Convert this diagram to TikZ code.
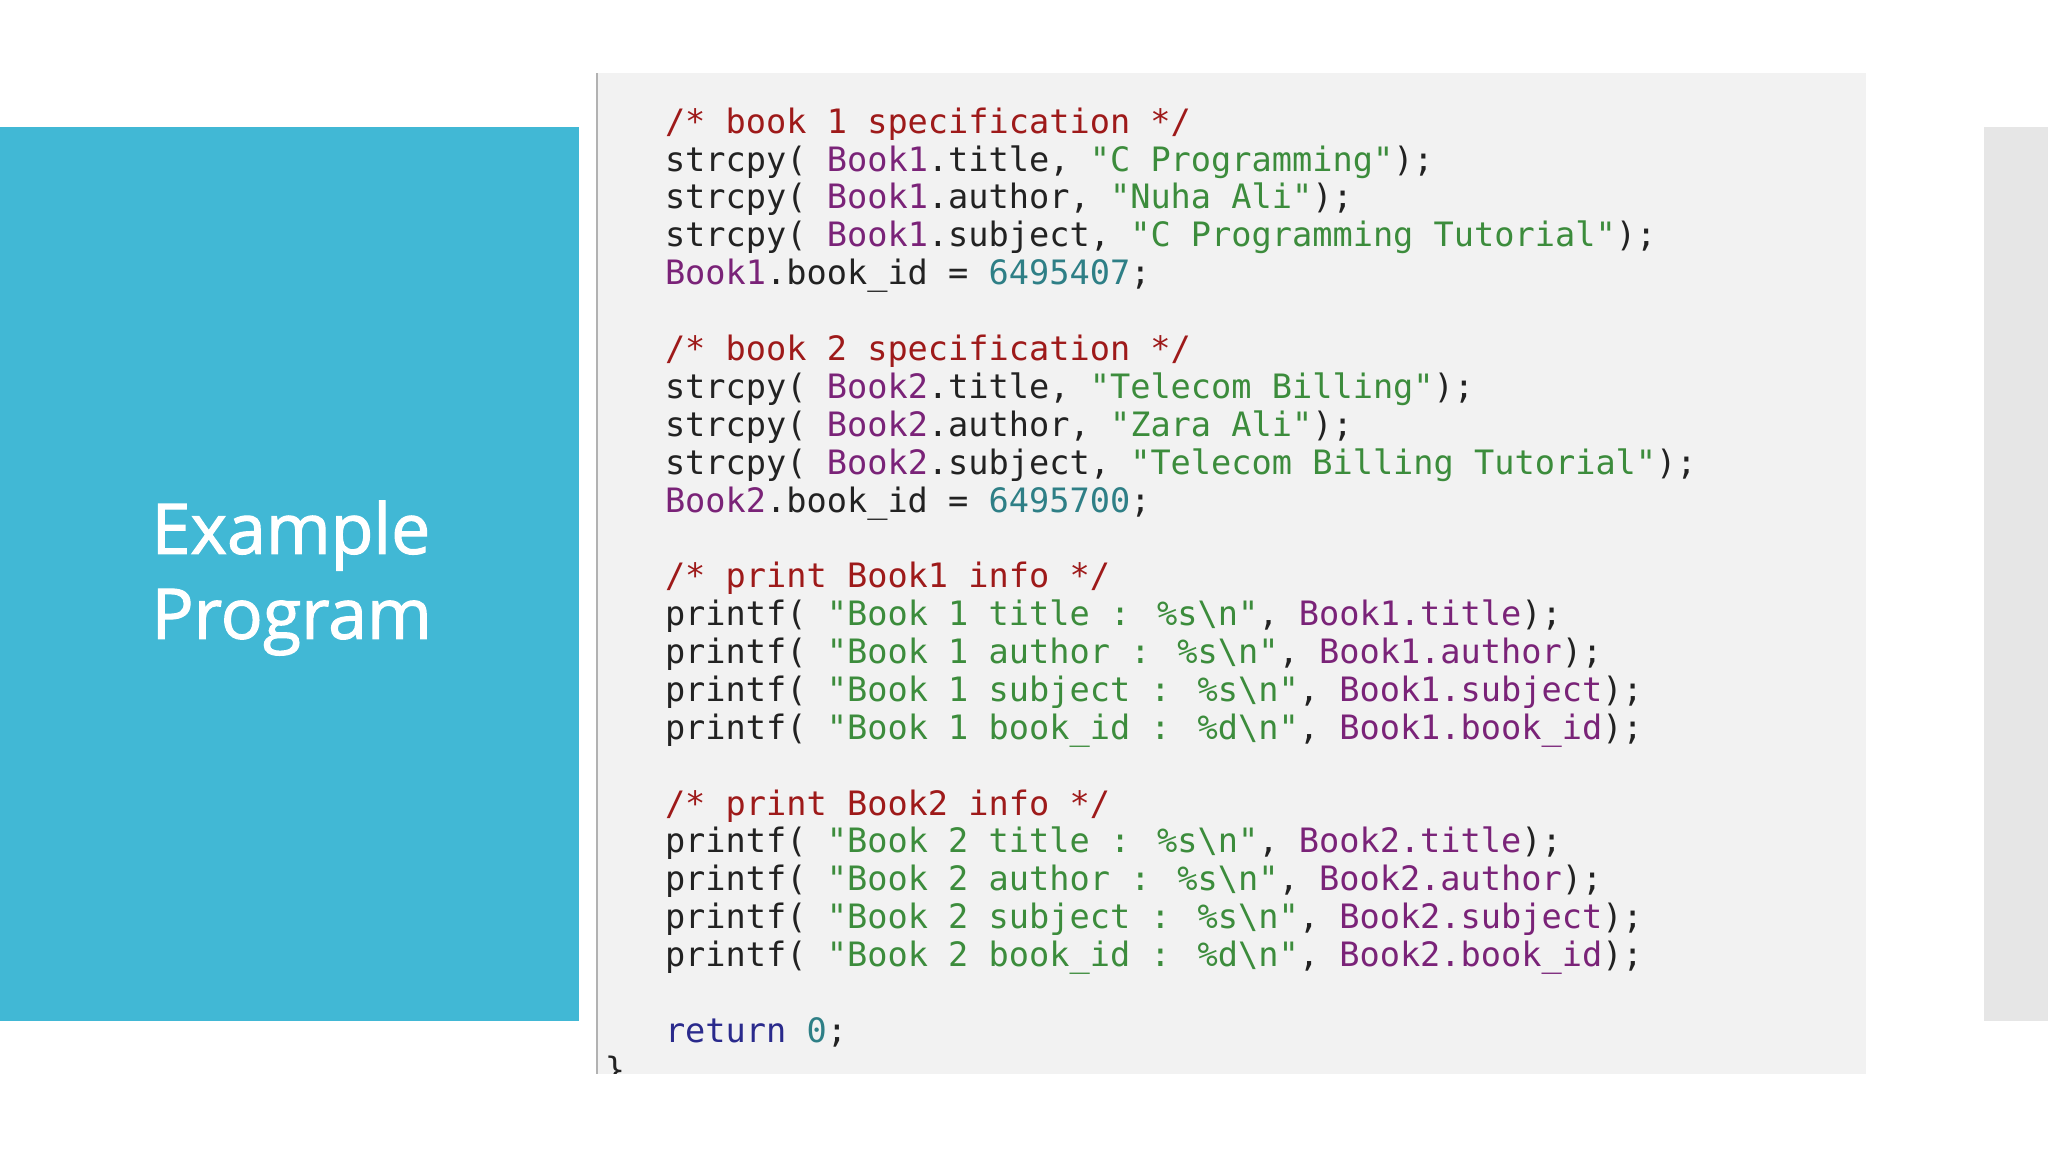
\documentclass[tikz,border=0pt]{standalone}
\usepackage{fontspec}
\setmainfont{Open Sans}
\newfontfamily\titlefont[FakeBold=1.6]{Open Sans}
\newfontfamily\codefont{DejaVu Sans Mono}
\definecolor{bluebg}{HTML}{41B8D5}
\definecolor{panel}{HTML}{F2F2F2}
\definecolor{rgray}{HTML}{E6E6E6}
\definecolor{cmt}{HTML}{9E1A1A}
\definecolor{idc}{HTML}{7A2378}
\definecolor{strc}{HTML}{3C8C3C}
\definecolor{numc}{HTML}{2E7F86}
\definecolor{kwc}{HTML}{2A2A8C}
\definecolor{txt}{HTML}{222222}
\newcommand\Cm[1]{\textcolor{cmt}{#1}}
\newcommand\Id[1]{\textcolor{idc}{#1}}
\newcommand\St[1]{\textcolor{strc}{#1}}
\newcommand\Nm[1]{\textcolor{numc}{#1}}
\newcommand\Kw[1]{\textcolor{kwc}{#1}}
\begin{document}
\begin{tikzpicture}[x=0.05cm,y=-0.05cm,
  codeline/.style={anchor=base west,inner sep=0pt,text=txt,font=\codefont\fontsize{36.6pt}{41pt}\selectfont},
  titletext/.style={anchor=base west,inner sep=0pt,text=white,align=left,font=\titlefont\fontsize{76pt}{92pt}\selectfont}]
\useasboundingbox (0,0) rectangle (1568,882);
\fill[white] (0,0) rectangle (1568,882);
\fill[bluebg] (0,97) rectangle (443,782);
\fill[rgray] (1519,97) rectangle (1568,782);
\fill[panel] (456,56) rectangle (1429,822);
\draw[gray!60,line width=1.5pt] (457,56) -- (457,822);
\node[titletext] (t1) at (116,424) {Example};
\node[titletext] (t2) at (116,489) {Program};
\def\L#1#2{\node[codeline] (c#1) at (509,{102+29*#1}) {#2};}
\L{0}{\Cm{/* book 1 specification */}}
\L{1}{strcpy( \Id{Book1}.title, \St{"C Programming"});}
\L{2}{strcpy( \Id{Book1}.author, \St{"Nuha Ali"});}
\L{3}{strcpy( \Id{Book1}.subject, \St{"C Programming Tutorial"});}
\L{4}{\Id{Book1}.book\_id = \Nm{6495407};}
\L{6}{\Cm{/* book 2 specification */}}
\L{7}{strcpy( \Id{Book2}.title, \St{"Telecom Billing"});}
\L{8}{strcpy( \Id{Book2}.author, \St{"Zara Ali"});}
\L{9}{strcpy( \Id{Book2}.subject, \St{"Telecom Billing Tutorial"});}
\L{10}{\Id{Book2}.book\_id = \Nm{6495700};}
\L{12}{\Cm{/* print Book1 info */}}
\L{13}{printf( \St{"Book 1 title : \%s\textbackslash n"}, \Id{Book1.title});}
\L{14}{printf( \St{"Book 1 author : \%s\textbackslash n"}, \Id{Book1.author});}
\L{15}{printf( \St{"Book 1 subject : \%s\textbackslash n"}, \Id{Book1.subject});}
\L{16}{printf( \St{"Book 1 book\_id : \%d\textbackslash n"}, \Id{Book1.book\_id});}
\L{18}{\Cm{/* print Book2 info */}}
\L{19}{printf( \St{"Book 2 title : \%s\textbackslash n"}, \Id{Book2.title});}
\L{20}{printf( \St{"Book 2 author : \%s\textbackslash n"}, \Id{Book2.author});}
\L{21}{printf( \St{"Book 2 subject : \%s\textbackslash n"}, \Id{Book2.subject});}
\L{22}{printf( \St{"Book 2 book\_id : \%d\textbackslash n"}, \Id{Book2.book\_id});}
\L{24}{\Kw{return} \Nm{0};}
\begin{scope}
\clip (456,56) rectangle (1429,822);
\node[codeline] (brace) at (463,828) {\}};
\end{scope}
\end{tikzpicture}
\end{document}
